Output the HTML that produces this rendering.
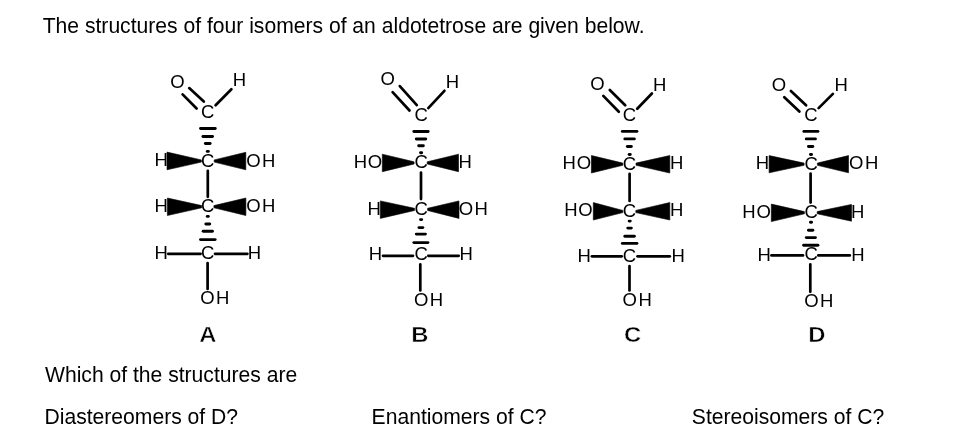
<!DOCTYPE html>
<html><head><meta charset="utf-8"><style>
html,body{margin:0;padding:0;background:#fff;}
body{width:961px;height:441px;overflow:hidden;position:relative;}
svg{position:absolute;left:0;top:0;will-change:transform;}
svg text{font-family:"Liberation Sans",sans-serif;font-size:18.5px;fill:#000;}
svg text.tt{font-size:21.12px;}
svg text.lb{font-size:22.5px;font-weight:bold;stroke:#fff;stroke-width:0.5px;}
svg line{stroke:#000;}
svg polygon{fill:#000;stroke:#000;stroke-width:0.6;stroke-linejoin:round;}
</style></head><body>
<svg width="961" height="441" viewBox="0 0 961 441">
<text transform="translate(170.31 88.22) scale(1 1.04)" letter-spacing="0">O</text>
<text transform="translate(232.82 86.32) scale(1 1.04)" letter-spacing="0">H</text>
<text transform="translate(201.10 118.42) scale(1 1.04)" letter-spacing="0">C</text>
<line x1="182.60" y1="94.40" x2="196.60" y2="108.50" stroke-width="2.7" stroke-linecap="round"/>
<line x1="189.20" y1="88.10" x2="203.80" y2="101.60" stroke-width="2.7" stroke-linecap="round"/>
<line x1="215.60" y1="105.20" x2="231.40" y2="89.30" stroke-width="2.7" stroke-linecap="round"/>
<line x1="200.55" y1="128.5" x2="215.25" y2="128.5" stroke-width="2.9" stroke-linecap="round"/>
<line x1="202.95" y1="136.5" x2="212.55" y2="136.5" stroke-width="2.9" stroke-linecap="round"/>
<line x1="205.35" y1="143.5" x2="210.15" y2="143.5" stroke-width="2.9" stroke-linecap="round"/>
<line x1="207.25" y1="151.4" x2="208.35" y2="151.4" stroke-width="2.9" stroke-linecap="round"/>
<text transform="translate(201.00 166.67) scale(1 1.04)" letter-spacing="0">C</text>
<polygon points="201.4,159.90 167.0,152.1 167.0,169.8 201.4,162.10"/>
<polygon points="214.2,159.90 245.8,152.3 245.8,169.8 214.2,162.10"/>
<text transform="translate(154.38 166.32) scale(1 1.04)" letter-spacing="0">H</text>
<text transform="translate(246.22 166.62) scale(1 1.04)" letter-spacing="1.4">OH</text>
<line x1="207.80" y1="170.80" x2="207.80" y2="196.80" stroke-width="2.7" stroke-linecap="round"/>
<text transform="translate(201.00 211.92) scale(1 1.04)" letter-spacing="0">C</text>
<polygon points="201.7,205.60 167.4,198.0 167.4,215.5 201.7,207.80"/>
<polygon points="213.9,205.60 245.9,198.0 245.9,215.5 213.9,207.80"/>
<text transform="translate(154.38 211.62) scale(1 1.04)" letter-spacing="0">H</text>
<text transform="translate(246.22 211.92) scale(1 1.04)" letter-spacing="1.4">OH</text>
<line x1="207.25" y1="216.4" x2="208.35" y2="216.4" stroke-width="2.9" stroke-linecap="round"/>
<line x1="205.85" y1="224.0" x2="209.75" y2="224.0" stroke-width="2.9" stroke-linecap="round"/>
<line x1="203.15" y1="231.3" x2="212.45" y2="231.3" stroke-width="2.9" stroke-linecap="round"/>
<line x1="200.45" y1="239.6" x2="215.15" y2="239.6" stroke-width="2.9" stroke-linecap="round"/>
<text transform="translate(201.00 258.92) scale(1 1.04)" letter-spacing="0">C</text>
<line x1="168.20" y1="253.85" x2="200.60" y2="253.85" stroke-width="2.7" stroke-linecap="round"/>
<line x1="215.00" y1="253.85" x2="247.40" y2="253.85" stroke-width="2.7" stroke-linecap="round"/>
<text transform="translate(154.58 258.92) scale(1 1.04)" letter-spacing="0">H</text>
<text transform="translate(247.78 258.92) scale(1 1.04)" letter-spacing="0">H</text>
<line x1="207.60" y1="263.00" x2="207.60" y2="289.00" stroke-width="2.7" stroke-linecap="round"/>
<text transform="translate(200.32 304.12) scale(1 1.04)" letter-spacing="1.4">OH</text>
<text transform="translate(380.56 85.42) scale(1 1.04)" letter-spacing="0">O</text>
<text transform="translate(445.82 88.12) scale(1 1.04)" letter-spacing="0">H</text>
<text transform="translate(414.50 121.37) scale(1 1.04)" letter-spacing="0">C</text>
<line x1="392.60" y1="92.20" x2="409.50" y2="110.50" stroke-width="2.7" stroke-linecap="round"/>
<line x1="399.80" y1="86.10" x2="416.80" y2="105.10" stroke-width="2.7" stroke-linecap="round"/>
<line x1="428.30" y1="108.10" x2="444.40" y2="90.80" stroke-width="2.7" stroke-linecap="round"/>
<line x1="413.85" y1="131.5" x2="428.15" y2="131.5" stroke-width="2.9" stroke-linecap="round"/>
<line x1="416.25" y1="139.0" x2="425.75" y2="139.0" stroke-width="2.9" stroke-linecap="round"/>
<line x1="418.65" y1="145.8" x2="423.35" y2="145.8" stroke-width="2.9" stroke-linecap="round"/>
<line x1="420.55" y1="152.8" x2="421.65" y2="152.8" stroke-width="2.9" stroke-linecap="round"/>
<text transform="translate(414.50 167.97) scale(1 1.04)" letter-spacing="0">C</text>
<polygon points="414.1,161.80 382.3,154.2 382.3,171.7 414.1,164.00"/>
<polygon points="427.2,161.80 458.5,154.2 458.5,171.7 427.2,164.00"/>
<text transform="translate(353.63 167.82) scale(1 1.04)" letter-spacing="0.8">HO</text>
<text transform="translate(458.48 167.82) scale(1 1.04)" letter-spacing="0">H</text>
<line x1="421.00" y1="172.60" x2="421.00" y2="199.10" stroke-width="2.7" stroke-linecap="round"/>
<text transform="translate(414.40 214.87) scale(1 1.04)" letter-spacing="0">C</text>
<polygon points="414.5,208.30 380.3,200.9 380.3,218.4 414.5,210.50"/>
<polygon points="427.6,208.30 459.0,200.9 459.0,218.4 427.6,210.50"/>
<text transform="translate(367.38 215.22) scale(1 1.04)" letter-spacing="0">H</text>
<text transform="translate(458.72 215.02) scale(1 1.04)" letter-spacing="1.4">OH</text>
<line x1="420.55" y1="219.6" x2="421.65" y2="219.6" stroke-width="2.9" stroke-linecap="round"/>
<line x1="418.95" y1="227.6" x2="422.85" y2="227.6" stroke-width="2.9" stroke-linecap="round"/>
<line x1="416.25" y1="234.1" x2="425.45" y2="234.1" stroke-width="2.9" stroke-linecap="round"/>
<line x1="413.85" y1="242.6" x2="427.95" y2="242.6" stroke-width="2.9" stroke-linecap="round"/>
<text transform="translate(414.40 260.42) scale(1 1.04)" letter-spacing="0">C</text>
<line x1="383.00" y1="255.80" x2="413.00" y2="255.80" stroke-width="2.7" stroke-linecap="round"/>
<line x1="428.30" y1="255.80" x2="458.70" y2="255.80" stroke-width="2.7" stroke-linecap="round"/>
<text transform="translate(368.78 260.42) scale(1 1.04)" letter-spacing="0">H</text>
<text transform="translate(459.58 260.42) scale(1 1.04)" letter-spacing="0">H</text>
<line x1="420.30" y1="264.40" x2="420.30" y2="290.50" stroke-width="2.7" stroke-linecap="round"/>
<text transform="translate(413.92 306.12) scale(1 1.04)" letter-spacing="1.4">OH</text>
<text transform="translate(590.31 89.62) scale(1 1.04)" letter-spacing="0">O</text>
<text transform="translate(652.92 91.22) scale(1 1.04)" letter-spacing="0">H</text>
<text transform="translate(622.80 121.42) scale(1 1.04)" letter-spacing="0">C</text>
<line x1="603.30" y1="95.90" x2="618.80" y2="111.80" stroke-width="2.7" stroke-linecap="round"/>
<line x1="609.80" y1="90.00" x2="625.20" y2="105.20" stroke-width="2.7" stroke-linecap="round"/>
<line x1="637.20" y1="108.80" x2="651.90" y2="93.50" stroke-width="2.7" stroke-linecap="round"/>
<line x1="622.35" y1="131.4" x2="636.95" y2="131.4" stroke-width="2.9" stroke-linecap="round"/>
<line x1="624.85" y1="138.9" x2="634.35" y2="138.9" stroke-width="2.9" stroke-linecap="round"/>
<line x1="627.35" y1="146.5" x2="631.35" y2="146.5" stroke-width="2.9" stroke-linecap="round"/>
<line x1="629.15" y1="154.5" x2="630.25" y2="154.5" stroke-width="2.9" stroke-linecap="round"/>
<text transform="translate(622.70 169.72) scale(1 1.04)" letter-spacing="0">C</text>
<polygon points="622.8,163.10 591.4,155.5 591.4,173.0 622.8,165.30"/>
<polygon points="636.0,163.10 669.8,155.5 669.8,173.0 636.0,165.30"/>
<text transform="translate(562.53 169.12) scale(1 1.04)" letter-spacing="0.8">HO</text>
<text transform="translate(669.98 169.22) scale(1 1.04)" letter-spacing="0">H</text>
<line x1="629.60" y1="173.80" x2="629.60" y2="200.90" stroke-width="2.7" stroke-linecap="round"/>
<text transform="translate(622.70 216.62) scale(1 1.04)" letter-spacing="0">C</text>
<polygon points="622.9,210.40 593.3,202.6 593.3,220.0 622.9,212.60"/>
<polygon points="635.8,210.40 669.8,202.5 669.8,220.0 635.8,212.60"/>
<text transform="translate(564.13 216.22) scale(1 1.04)" letter-spacing="0.8">HO</text>
<text transform="translate(669.98 216.32) scale(1 1.04)" letter-spacing="0">H</text>
<line x1="629.15" y1="221.1" x2="630.25" y2="221.1" stroke-width="2.9" stroke-linecap="round"/>
<line x1="627.75" y1="228.1" x2="631.35" y2="228.1" stroke-width="2.9" stroke-linecap="round"/>
<line x1="624.85" y1="236.2" x2="634.35" y2="236.2" stroke-width="2.9" stroke-linecap="round"/>
<line x1="622.35" y1="243.4" x2="636.95" y2="243.4" stroke-width="2.9" stroke-linecap="round"/>
<text transform="translate(622.70 262.02) scale(1 1.04)" letter-spacing="0">C</text>
<line x1="591.90" y1="256.30" x2="621.70" y2="256.30" stroke-width="2.7" stroke-linecap="round"/>
<line x1="637.50" y1="256.30" x2="669.80" y2="256.30" stroke-width="2.7" stroke-linecap="round"/>
<text transform="translate(577.48 262.42) scale(1 1.04)" letter-spacing="0">H</text>
<text transform="translate(671.48 262.42) scale(1 1.04)" letter-spacing="0">H</text>
<line x1="629.50" y1="266.00" x2="629.50" y2="290.50" stroke-width="2.7" stroke-linecap="round"/>
<text transform="translate(622.62 306.12) scale(1 1.04)" letter-spacing="1.4">OH</text>
<text transform="translate(771.81 91.12) scale(1 1.04)" letter-spacing="0">O</text>
<text transform="translate(834.52 91.12) scale(1 1.04)" letter-spacing="0">H</text>
<text transform="translate(804.30 121.32) scale(1 1.04)" letter-spacing="0">C</text>
<line x1="784.30" y1="97.30" x2="799.40" y2="111.60" stroke-width="2.7" stroke-linecap="round"/>
<line x1="790.90" y1="90.90" x2="806.10" y2="105.30" stroke-width="2.7" stroke-linecap="round"/>
<line x1="818.60" y1="108.10" x2="832.90" y2="93.90" stroke-width="2.7" stroke-linecap="round"/>
<line x1="803.85" y1="131.4" x2="817.95" y2="131.4" stroke-width="2.9" stroke-linecap="round"/>
<line x1="806.25" y1="138.9" x2="815.45" y2="138.9" stroke-width="2.9" stroke-linecap="round"/>
<line x1="808.45" y1="146.5" x2="812.85" y2="146.5" stroke-width="2.9" stroke-linecap="round"/>
<line x1="810.45" y1="154.5" x2="811.55" y2="154.5" stroke-width="2.9" stroke-linecap="round"/>
<text transform="translate(804.40 169.72) scale(1 1.04)" letter-spacing="0">C</text>
<polygon points="804.1,163.10 769.1,155.6 769.1,172.8 804.1,165.30"/>
<polygon points="817.4,163.10 848.5,155.6 848.5,172.8 817.4,165.30"/>
<text transform="translate(755.78 169.22) scale(1 1.04)" letter-spacing="0">H</text>
<text transform="translate(849.12 169.42) scale(1 1.04)" letter-spacing="1.4">OH</text>
<line x1="810.60" y1="173.60" x2="810.60" y2="202.60" stroke-width="2.7" stroke-linecap="round"/>
<text transform="translate(804.40 217.62) scale(1 1.04)" letter-spacing="0">C</text>
<polygon points="804.4,211.60 771.3,204.1 771.3,221.6 804.4,213.80"/>
<polygon points="817.2,211.60 851.5,204.4 851.5,221.2 817.2,213.80"/>
<text transform="translate(742.23 218.02) scale(1 1.04)" letter-spacing="0.8">HO</text>
<text transform="translate(850.98 218.02) scale(1 1.04)" letter-spacing="0">H</text>
<line x1="810.45" y1="222.3" x2="811.55" y2="222.3" stroke-width="2.9" stroke-linecap="round"/>
<line x1="808.45" y1="230.2" x2="812.85" y2="230.2" stroke-width="2.9" stroke-linecap="round"/>
<line x1="806.25" y1="237.6" x2="815.45" y2="237.6" stroke-width="2.9" stroke-linecap="round"/>
<line x1="803.65" y1="245.2" x2="817.95" y2="245.2" stroke-width="2.9" stroke-linecap="round"/>
<text transform="translate(804.40 260.27) scale(1 1.04)" letter-spacing="0">C</text>
<line x1="771.50" y1="255.40" x2="803.00" y2="255.40" stroke-width="2.7" stroke-linecap="round"/>
<line x1="818.30" y1="255.40" x2="849.80" y2="255.40" stroke-width="2.7" stroke-linecap="round"/>
<text transform="translate(757.48 260.52) scale(1 1.04)" letter-spacing="0">H</text>
<text transform="translate(851.18 260.52) scale(1 1.04)" letter-spacing="0">H</text>
<line x1="810.30" y1="264.40" x2="810.30" y2="291.80" stroke-width="2.7" stroke-linecap="round"/>
<text transform="translate(804.22 307.32) scale(1 1.04)" letter-spacing="1.4">OH</text>
<text class="tt" transform="translate(42.7 32.9) scale(1 1.05)">The structures of four isomers of an aldotetrose are given below.</text>
<text class="tt" transform="translate(45.0 382.4) scale(1 1.05)">Which of the structures are</text>
<text class="tt" transform="translate(44.5 423.8) scale(1 1.05)">Diastereomers of D?</text>
<text class="tt" transform="translate(371.6 424.0) scale(1 1.05)">Enantiomers of C?</text>
<text class="tt" transform="translate(691.85 424.0) scale(1 1.05)">Stereoisomers of C?</text>
<text class="lb" text-anchor="middle" transform="translate(207.9 341.8) scale(1.06 1.0)">A</text>
<text class="lb" text-anchor="middle" transform="translate(419.95 341.8) scale(1.06 1.0)">B</text>
<text class="lb" text-anchor="middle" transform="translate(632.55 341.8) scale(1.06 1.0)">C</text>
<text class="lb" text-anchor="middle" transform="translate(816.8 341.8) scale(1.06 1.0)">D</text>
</svg>
</body></html>
